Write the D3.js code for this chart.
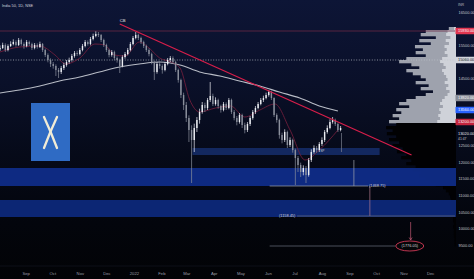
<!DOCTYPE html>
<html>
<head>
<meta charset="utf-8">
<script src="https://cdn.jsdelivr.net/npm/d3@7"></script>
<style>
  html, body { margin: 0; padding: 0; background: #02030a; overflow: hidden; }
  svg { display: block; font-family: "Liberation Sans", Roboto, sans-serif; }
</style>
</head>
<body>
<svg id="chart" width="474" height="279"></svg>
<script>
// ---- data ----
const title = "India 50, 1D, NSE";
const startDay = new Date(2021, 7, 3);
const candleStepDays = 3;
const firstOpen = 15380;

const closes = [
  15420,15510,15360,15480,15540,15600,15510,15660,15540,15480,
  15600,15540,15420,15510,15450,15540,15360,15210,15060,14940,
  14880,14760,14700,14820,14910,15000,15060,15180,15270,15240,
  15360,15480,15600,15540,15690,15780,15840,15810,15660,15510,
  15360,15210,15300,15120,15060,14880,15150,15240,15360,15540,
  15720,15810,15720,15600,15480,15360,15240,15000,14700,14940,
  14880,14760,14940,15060,15120,15000,14760,14460,14010,13710,
  13320,12960,12660,13020,13260,13500,13710,13620,13860,13980,
  13740,13860,13680,13560,13740,13620,13860,13500,13320,13200,
  13410,13110,12960,13140,13320,13500,13620,13740,13860,13920,
  14010,14100,13920,13410,13260,12810,12660,12900,12510,12660,
  12360,12120,11910,11700,11820,11610,12060,12300,12420,12360,
  12540,12660,12900,13020,13200,13260,13140,12960,13020
];
const highs = [
  15500,15580,15560,15530,15620,15680,15650,15720,15700,15590,
  15660,15640,15580,15570,15560,15610,15570,15400,15260,15110,
  15000,14930,14820,14880,14980,15060,15130,15240,15330,15340,
  15420,15540,15660,15650,15750,15850,15920,15900,15840,15700,
  15550,15400,15360,15340,15170,15100,15200,15300,15420,15600,
  15780,15900,15850,15760,15640,15520,15410,15280,15040,15000,
  15010,14930,15000,15120,15180,15170,15040,14800,14500,14080,
  13800,13400,13100,13150,13350,13600,13800,13780,13920,14400,
  14050,13940,13900,13720,13800,13790,13920,13900,13560,13380,
  13470,13450,13180,13200,13380,13560,13680,13800,13920,13990,
  14080,14160,14140,13940,13460,13300,12880,12980,12940,12740,
  12700,12400,12180,11980,11900,11880,12120,12380,12500,12480,
  12600,12740,12960,13100,13280,13350,13300,13180,13080
];
const lows = [
  15330,15390,15300,15320,15450,15500,15460,15480,15490,15400,
  15440,15480,15360,15380,15400,15420,15300,15150,14990,14850,
  14800,14580,14520,14640,14760,14860,14950,15010,15130,15180,
  15200,15320,15440,15490,15500,15650,15740,15750,15600,15450,
  15300,15140,15160,15050,14980,14670,14840,15100,15200,15320,
  15500,15680,15660,15540,15420,15300,15170,14930,14460,14650,
  14800,14650,14720,14900,15000,14940,14700,14380,13920,13560,
  13200,12600,11370,12300,12900,13150,13450,13500,13560,13800,
  13680,13690,13600,13480,13520,13560,13580,13440,13250,13100,
  13150,13020,12860,12900,13080,13270,13440,13580,13700,13800,
  13880,13960,13860,13350,13180,12700,12560,12600,12420,12450,
  12280,11310,11700,11550,11600,11370,11560,12000,12250,12280,
  12300,12480,12600,12850,12980,13150,13080,12900,12920
];

// slow moving average (light grey) and fast one (maroon)
const smaDates = ["2021-08-03","2021-08-25","2021-09-17","2021-10-09","2021-11-01","2021-11-23","2021-12-16",
  "2022-01-07","2022-01-30","2022-02-22","2022-03-16","2022-04-08","2022-04-30","2022-05-23","2022-06-14",
  "2022-07-07","2022-07-29","2022-08-19"];
const smaValues = [14070,14160,14280,14430,14550,14700,14850,14940,15000,14910,14700,14580,14430,14280,14100,13920,13680,13530];

const emaDates = ["2021-08-03","2021-08-25","2021-09-17","2021-10-04","2021-10-16","2021-11-01","2021-11-18","2021-11-29",
  "2021-12-10","2021-12-22","2022-01-07","2022-01-18","2022-01-30","2022-02-12","2022-02-22","2022-03-05","2022-03-16",
  "2022-04-03","2022-04-20","2022-05-06","2022-05-23","2022-06-09","2022-06-26","2022-07-13","2022-07-29","2022-08-19"];
const emaValues = [15300,15450,15480,15210,14940,15120,15540,15510,15210,15180,15600,15420,15120,15000,14820,13860,13500,
  13620,13680,13350,13560,13740,12960,12060,12360,12960];

// volume profile rows (top row price, row height in price, volumes)
const profileTop = 16050;
const profileStep = 90;
const profileVol = [10,42,49,28,51,35,57,46,56,42,69,79,62,51,69,60,49,42,56,38,49,32,42,56,69,79,65,83,76,88,
  79,93,83,97,88,96,83,93,79,88,74,82,69,76,62,69,56,60,49,51,42,35,28,18,14,10,8,7,6,7,5,4,5,4,4,3,4,3,3,3,2,2,2];

// horizontal lines and zones
const resistancePrice = 15930;
const dottedPrice = 15060;
const zones = [
  { from: "2021-07-01", to: "2023-01-31", top: 11820, bottom: 11280, fill: "#0f2f8e", op: 0.9 },
  { from: "2021-07-01", to: "2023-01-31", top: 10860, bottom: 10350, fill: "#0d2a80", op: 0.9 },
  { from: "2022-03-08", to: "2022-10-05", top: 12420, bottom: 12210, fill: "#173070", op: 0.8 }
];
const trendStart = { date: "2021-12-16", price: 16140 };
const trendEnd = { date: "2022-11-10", price: 12210 };

// measurement drawings
const vLines = [
  { date: "2022-08-23", from: 12870, to: 12300, color: "#7d8290" },
  { date: "2022-09-06", from: 12060, to: 11280, color: "#a0a4ae" },
  { date: "2022-09-24", from: 11280, to: 10380, color: "#b07a8e" },
  { date: "2022-11-09", from: 10200, to: 9660, color: "#c05872" }
];
const hLines = [
  { from: "2022-06-03", to: "2022-09-22", price: 11280, color: "#9ea3ae" },
  { from: "2022-07-04", to: "2022-12-29", price: 10380, color: "#6c717e" },
  { from: "2022-06-03", to: "2022-10-23", price: 9480, color: "#6c717e" }
];
const measureLabels = [
  { date: "2022-09-23", price: 11280, text: "(1468.75)", anchor: "start" },
  { date: "2022-07-02", price: 10380, text: "(1158.45)", anchor: "end" },
  { date: "2022-11-08", price: 9480, text: "(1776.05)", anchor: "middle" }
];

// price scale tags
const priceTicks = d3.range(9500, 16501, 500);
const priceTags = [
  { price: 15930, bg: "#e23650", fg: "#ffffff" },
  { price: 15060, bg: "#d1d4dc", fg: "#131722" },
  { price: 13920, bg: "#878b96", fg: "#ffffff" },
  { price: 13560, bg: "#2962ff", fg: "#ffffff" },
  { price: 13200, bg: "#c4253e", fg: "#ffffff" }
];
const countdown = "41:47";

// ---- layout ----
const W = 474, H = 279;
const plotRight = 455, plotBottom = 262;
const parse = d3.timeParse("%Y-%m-%d");

const x = d3.scaleTime()
  .domain([new Date(2021, 7, 3), new Date(2022, 11, 29)])
  .range([0, plotRight]);
const y = d3.scaleLinear().domain([9000, 16860]).range([plotBottom, 0]);

const svg = d3.select("#chart");
const defs = svg.append("defs");
const grad = defs.append("linearGradient").attr("id", "bg")
  .attr("x1", 0).attr("y1", 0).attr("x2", 0).attr("y2", 1);
[[0, "#0d1536"], [0.3, "#0a1029"], [0.55, "#060a19"], [0.8, "#03050c"], [1, "#020306"]]
  .forEach(([o, c]) => grad.append("stop").attr("offset", o).attr("stop-color", c));
defs.append("clipPath").attr("id", "plot").append("rect")
  .attr("width", plotRight + 1).attr("height", plotBottom);

svg.append("rect").attr("width", W).attr("height", H).attr("fill", "url(#bg)");

const plot = svg.append("g").attr("clip-path", "url(#plot)");

// volume profile, anchored on the price scale
const vx = d3.scaleLinear().domain([0, 100]).range([0, 72]);
profileVol.forEach((v, k) => {
  const hi = profileTop - k * profileStep;
  const lo = hi - profileStep;
  const w = vx(v);
  const dark = hi < 13200;
  plot.append("rect")
    .attr("x", plotRight + 1 - w).attr("y", y(hi))
    .attr("width", w).attr("height", y(lo) - y(hi) + 0.3)
    .attr("fill", dark ? "#010103" : "#9ea2ad");
  if (!dark) {
    plot.append("rect")
      .attr("x", plotRight + 1 - w * 0.28).attr("y", y(hi))
      .attr("width", w * 0.28).attr("height", y(lo) - y(hi) + 0.3)
      .attr("fill", "#cfd2d9");
  }
});

// zones
plot.selectAll(".zone").data(zones).join("rect")
  .attr("class", "zone")
  .attr("x", d => x(parse(d.from)))
  .attr("y", d => y(d.top))
  .attr("width", d => x(parse(d.to)) - x(parse(d.from)))
  .attr("height", d => y(d.bottom) - y(d.top))
  .attr("fill", d => d.fill)
  .attr("opacity", d => d.op);

// horizontal levels
plot.append("line")
  .attr("x1", 0).attr("x2", plotRight)
  .attr("y1", y(resistancePrice)).attr("y2", y(resistancePrice))
  .attr("stroke", "#6a2a44").attr("stroke-width", 0.8);
plot.append("line")
  .attr("x1", 0).attr("x2", plotRight)
  .attr("y1", y(dottedPrice)).attr("y2", y(dottedPrice))
  .attr("stroke", "#c0c4cc").attr("stroke-width", 0.7)
  .attr("stroke-dasharray", "1,1.6");

// moving averages
const line = d3.line().x(d => x(d[0])).y(d => y(d[1])).curve(d3.curveMonotoneX);
plot.append("path")
  .attr("d", line(smaDates.map((d, i) => [parse(d), smaValues[i]])))
  .attr("fill", "none").attr("stroke", "#b8bcc6").attr("stroke-width", 1.1);
plot.append("path")
  .attr("d", line(emaDates.map((d, i) => [parse(d), emaValues[i]])))
  .attr("fill", "none").attr("stroke", "#7a1f3d").attr("stroke-width", 0.8);

// candles
const candles = closes.map((c, i) => ({
  date: d3.timeDay.offset(startDay, i * candleStepDays),
  open: i ? closes[i - 1] : firstOpen,
  high: highs[i], low: lows[i], close: c
}));
const cg = plot.append("g");
cg.selectAll("line").data(candles).join("line")
  .attr("x1", d => x(d.date)).attr("x2", d => x(d.date))
  .attr("y1", d => y(d.high)).attr("y2", d => y(d.low))
  .attr("stroke", d => d.close >= d.open ? "#e9eaf0" : "#8a8f9c")
  .attr("stroke-width", 0.7);
cg.selectAll("rect").data(candles).join("rect")
  .attr("x", d => x(d.date) - 0.7)
  .attr("y", d => y(Math.max(d.open, d.close)))
  .attr("width", 1.4)
  .attr("height", d => Math.max(0.8, Math.abs(y(d.open) - y(d.close))))
  .attr("fill", d => d.close >= d.open ? "#eceef3" : "#8a8f9c");

// trend line
plot.append("line")
  .attr("x1", x(parse(trendStart.date))).attr("y1", y(trendStart.price))
  .attr("x2", x(parse(trendEnd.date))).attr("y2", y(trendEnd.price))
  .attr("stroke", "#d81e4a").attr("stroke-width", 1.2);
plot.append("text")
  .attr("x", x(parse(trendStart.date))).attr("y", y(trendStart.price) - 2.5)
  .attr("font-size", 4.2).attr("fill", "#e6e7ec").text("CB");

// measurement lines
plot.selectAll(".vl").data(vLines).join("line")
  .attr("class", "vl")
  .attr("x1", d => x(parse(d.date))).attr("x2", d => x(parse(d.date)))
  .attr("y1", d => y(d.from)).attr("y2", d => y(d.to))
  .attr("stroke", d => d.color).attr("stroke-width", 0.7);
plot.selectAll(".hl").data(hLines).join("line")
  .attr("class", "hl")
  .attr("x1", d => x(parse(d.from))).attr("x2", d => x(parse(d.to)))
  .attr("y1", d => y(d.price)).attr("y2", d => y(d.price))
  .attr("stroke", d => d.color).attr("stroke-width", 0.7);
// arrow tip on the last vertical
const lastV = vLines[vLines.length - 1];
const ax = x(parse(lastV.date)), ay = y(lastV.to);
plot.append("path")
  .attr("d", `M${ax - 1.5},${ay - 2.5}L${ax},${ay}L${ax + 1.5},${ay - 2.5}`)
  .attr("fill", "none").attr("stroke", lastV.color).attr("stroke-width", 0.7);
// ellipse round the last label
const lastM = measureLabels[measureLabels.length - 1];
plot.append("ellipse")
  .attr("cx", x(parse(lastM.date))).attr("cy", y(lastM.price))
  .attr("rx", 14).attr("ry", 5)
  .attr("fill", "#050608").attr("stroke", "#d23a58").attr("stroke-width", 0.9);
plot.selectAll(".ml").data(measureLabels).join("text")
  .attr("class", "ml")
  .attr("x", d => x(parse(d.date))).attr("y", d => y(d.price) + 1.4)
  .attr("text-anchor", d => d.anchor)
  .attr("font-size", 3.9).attr("fill", "#d6d8df").text(d => d.text);

// small "SP" tag inside the thin zone
plot.append("text")
  .attr("x", x(parse("2022-07-30"))).attr("y", y(12300))
  .attr("font-size", 3.2).attr("fill", "#c4c8d2").text("SP");

// logo box
const logo = svg.append("g");
logo.append("rect").attr("x", 31).attr("y", 103).attr("width", 39).attr("height", 58).attr("fill", "#2f6bc4");
logo.append("path").attr("d", "M44,117 Q51,132 57,148").attr("fill", "none")
  .attr("stroke", "#f1ecd6").attr("stroke-width", 2.3).attr("stroke-linecap", "round");
logo.append("path").attr("d", "M57,117 Q50,132 44,148").attr("fill", "none")
  .attr("stroke", "#f1ecd6").attr("stroke-width", 2.3).attr("stroke-linecap", "round");

// title
svg.append("text").attr("x", 2).attr("y", 6.5)
  .attr("font-size", 3.9).attr("fill", "#d1d4dc").text(title);

// ---- price axis ----
const last = candles[candles.length - 1];
const lastLabelY = y(last.close) + 6;
const busyYs = priceTags.map(t => y(t.price)).concat([lastLabelY, lastLabelY + 4.5]);
const yAxis = d3.axisRight(y)
  .tickValues(priceTicks.filter(p => busyYs.every(ty => Math.abs(y(p) - ty) > 5.5)))
  .tickSize(0)
  .tickFormat(d3.format(".2f"));
const ya = svg.append("g").attr("transform", `translate(${plotRight + 1},0)`).call(yAxis);
ya.select(".domain").remove();
ya.selectAll("text").attr("x", 2.5).attr("font-size", 3.9).attr("fill", "#c3c6ce");

svg.append("text").attr("x", 458).attr("y", 5.5)
  .attr("font-size", 3.6).attr("fill", "#b0b3bb").text("INR");

const tags = svg.append("g").selectAll("g").data(priceTags).join("g")
  .attr("transform", d => `translate(${plotRight + 0.5},${y(d.price)})`);
tags.append("rect").attr("x", 0).attr("y", -3.2).attr("width", W - plotRight).attr("height", 6.4)
  .attr("rx", 0.8).attr("fill", d => d.bg);
tags.append("text").attr("x", 2.5).attr("y", 1.4).attr("font-size", 3.9)
  .attr("fill", d => d.fg).text(d => d3.format(".2f")(d.price));

// last price with bar countdown
svg.append("text").attr("x", plotRight + 3).attr("y", lastLabelY + 1.4)
  .attr("font-size", 3.9).attr("fill", "#e6e7ec").text(d3.format(".2f")(last.close));
svg.append("text").attr("x", plotRight + 3).attr("y", lastLabelY + 5.8)
  .attr("font-size", 3.4).attr("fill", "#c3c6ce").text(countdown);

// ---- time axis ----
svg.append("line").attr("x1", 0).attr("x2", W).attr("y1", plotBottom + 4).attr("y2", plotBottom + 4)
  .attr("stroke", "#161a26").attr("stroke-width", 0.6);
const monthFmt = d3.timeFormat("%b"), yearFmt = d3.timeFormat("%Y");
const xAxis = d3.axisBottom(x)
  .ticks(d3.timeMonth.every(1))
  .tickSize(0)
  .tickFormat(d => d.getMonth() === 0 ? yearFmt(d) : monthFmt(d));
const xa = svg.append("g").attr("transform", `translate(0,${plotBottom + 7})`).call(xAxis);
xa.select(".domain").remove();
xa.selectAll("text").attr("font-size", 4.2).attr("fill", "#9a9ea9");
</script>
</body>
</html>
